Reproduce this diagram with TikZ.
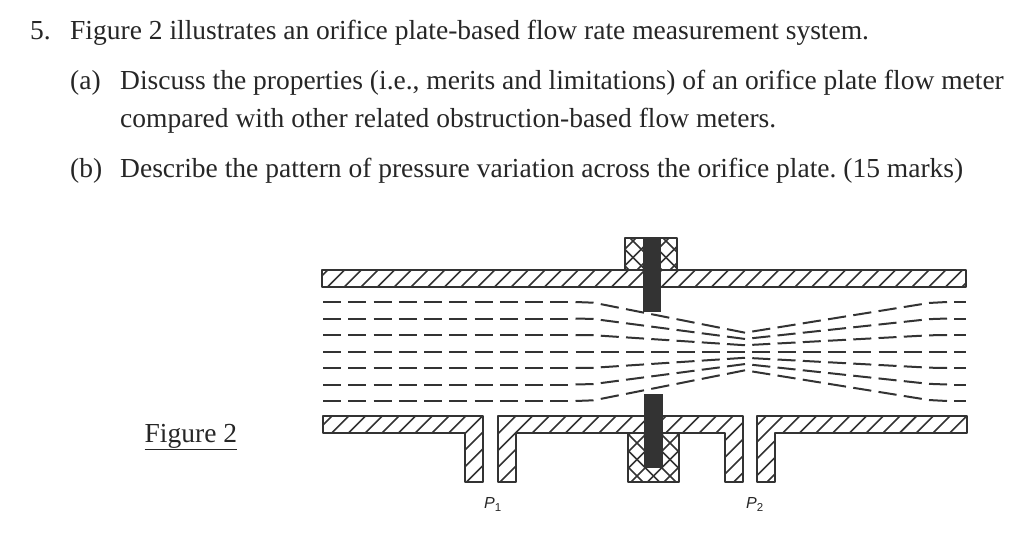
\documentclass[tikz,border=0pt]{standalone}
\usepackage{fontspec}
\setmainfont{Liberation Serif}
\newfontfamily\plabelfont{Liberation Sans}
\definecolor{ink}{HTML}{333333}
\definecolor{txt}{HTML}{262626}
\tikzset{
  wall/.style={draw=ink,line width=2.2pt,line join=round},
  hatchline/.style={draw=ink,line width=1.6pt},
  plate/.style={fill=ink,draw=none},
  flowdash/.style={draw=ink,line width=2pt},
  body/.style={anchor=base west,inner sep=0pt,text=txt,font=\fontsize{27.5}{32}\selectfont},
  plab/.style={anchor=base west,inner sep=0pt,text=txt,font=\plabelfont\itshape\fontsize{16}{18}\selectfont},
  declare function={flowf(\x)=(\x<590)?1:((\x<745)?(1-(\x-590)/155*0.62):((\x<935)?(0.38+(\x-745)/190*0.62):1));}
}
\newcommand{\hatchfill}[1]{%
  \begin{scope}
    \clip #1;
    \foreach \s in {31,47.7,...,1010}{\draw[hatchline] (\s,500)--(\s+280,220);}
  \end{scope}
  \draw[wall] #1;
}
\newcommand{\crossfill}[3]{%
  \begin{scope}
    \clip #1;
    \foreach \k in {-20,...,20}{
      \draw[hatchline] ({#2+\k*16.5},500)--({#2+\k*16.5+280},220);
      \draw[hatchline] ({#3+\k*16.5},220)--({#3+\k*16.5+280},500);
    }
  \end{scope}
  \draw[wall] #1;
}
\begin{document}\frenchspacing
\begin{tikzpicture}[x=1pt,y=-1pt]
\useasboundingbox (0,0) rectangle (1024,540);
% text
\node[body] (q) at (30,40) {5.};
\node[body] (t0) at (70,40) {Figure 2 illustrates an orifice plate-based flow rate measurement system.};
\node[body] (a) at (70,90) {(a)};
\node[body] (t1) at (120,90) {Discuss the properties (i.e., merits and limitations) of an orifice plate flow meter};
\node[body] (t2) at (120,127.5) {compared with other related obstruction-based flow meters.};
\node[body] (b) at (70,177) {(b)};
\node[body] (t3) at (120,177) {Describe the pattern of pressure variation across the orifice plate. (15 marks)};
\node[body] (fig) at (144.5,442) {\underline{Figure 2}};
% packing
\crossfill{(625,238) rectangle (677,270)}{374}{612}
\crossfill{(628,433) rectangle (679,482)}{580}{414}
% walls
\hatchfill{(322,270) rectangle (966,287)}
\hatchfill{(323,416) -- (483,416) -- (483,482) -- (465,482) -- (465,433) -- (323,433) -- cycle}
\hatchfill{(498,482) -- (498,416) -- (743,416) -- (743,482) -- (725,482) -- (725,433) -- (516,433) -- (516,482) -- cycle}
\hatchfill{(757,482) -- (757,416) -- (967,416) -- (967,433) -- (775,433) -- (775,482) -- cycle}
% orifice plate
\fill[plate] (643,238) rectangle (661,312);
\fill[plate] (644,394) rectangle (663,468);
% flow lines
\foreach \j in {-3,...,3}{
  \foreach \n in {0,...,25}{
    \pgfmathsetmacro{\xa}{323+25.25*\n}
    \pgfmathsetmacro{\xb}{min(\xa+18,966)}
    \pgfmathsetmacro{\ya}{351.5+\j*16.5*flowf(\xa)}
    \pgfmathsetmacro{\yb}{351.5+\j*16.5*flowf(\xb)}
    \draw[flowdash] (\xa,\ya)--(\xb,\yb);
  }
}
% labels
\node[plab] (p1) at (484,508) {P\raisebox{-3.5pt}{\fontsize{11.5}{12}\selectfont\upshape 1}};
\node[plab] (p2) at (746,508) {P\raisebox{-3.5pt}{\fontsize{11.5}{12}\selectfont\upshape 2}};
\end{tikzpicture}
\end{document}
